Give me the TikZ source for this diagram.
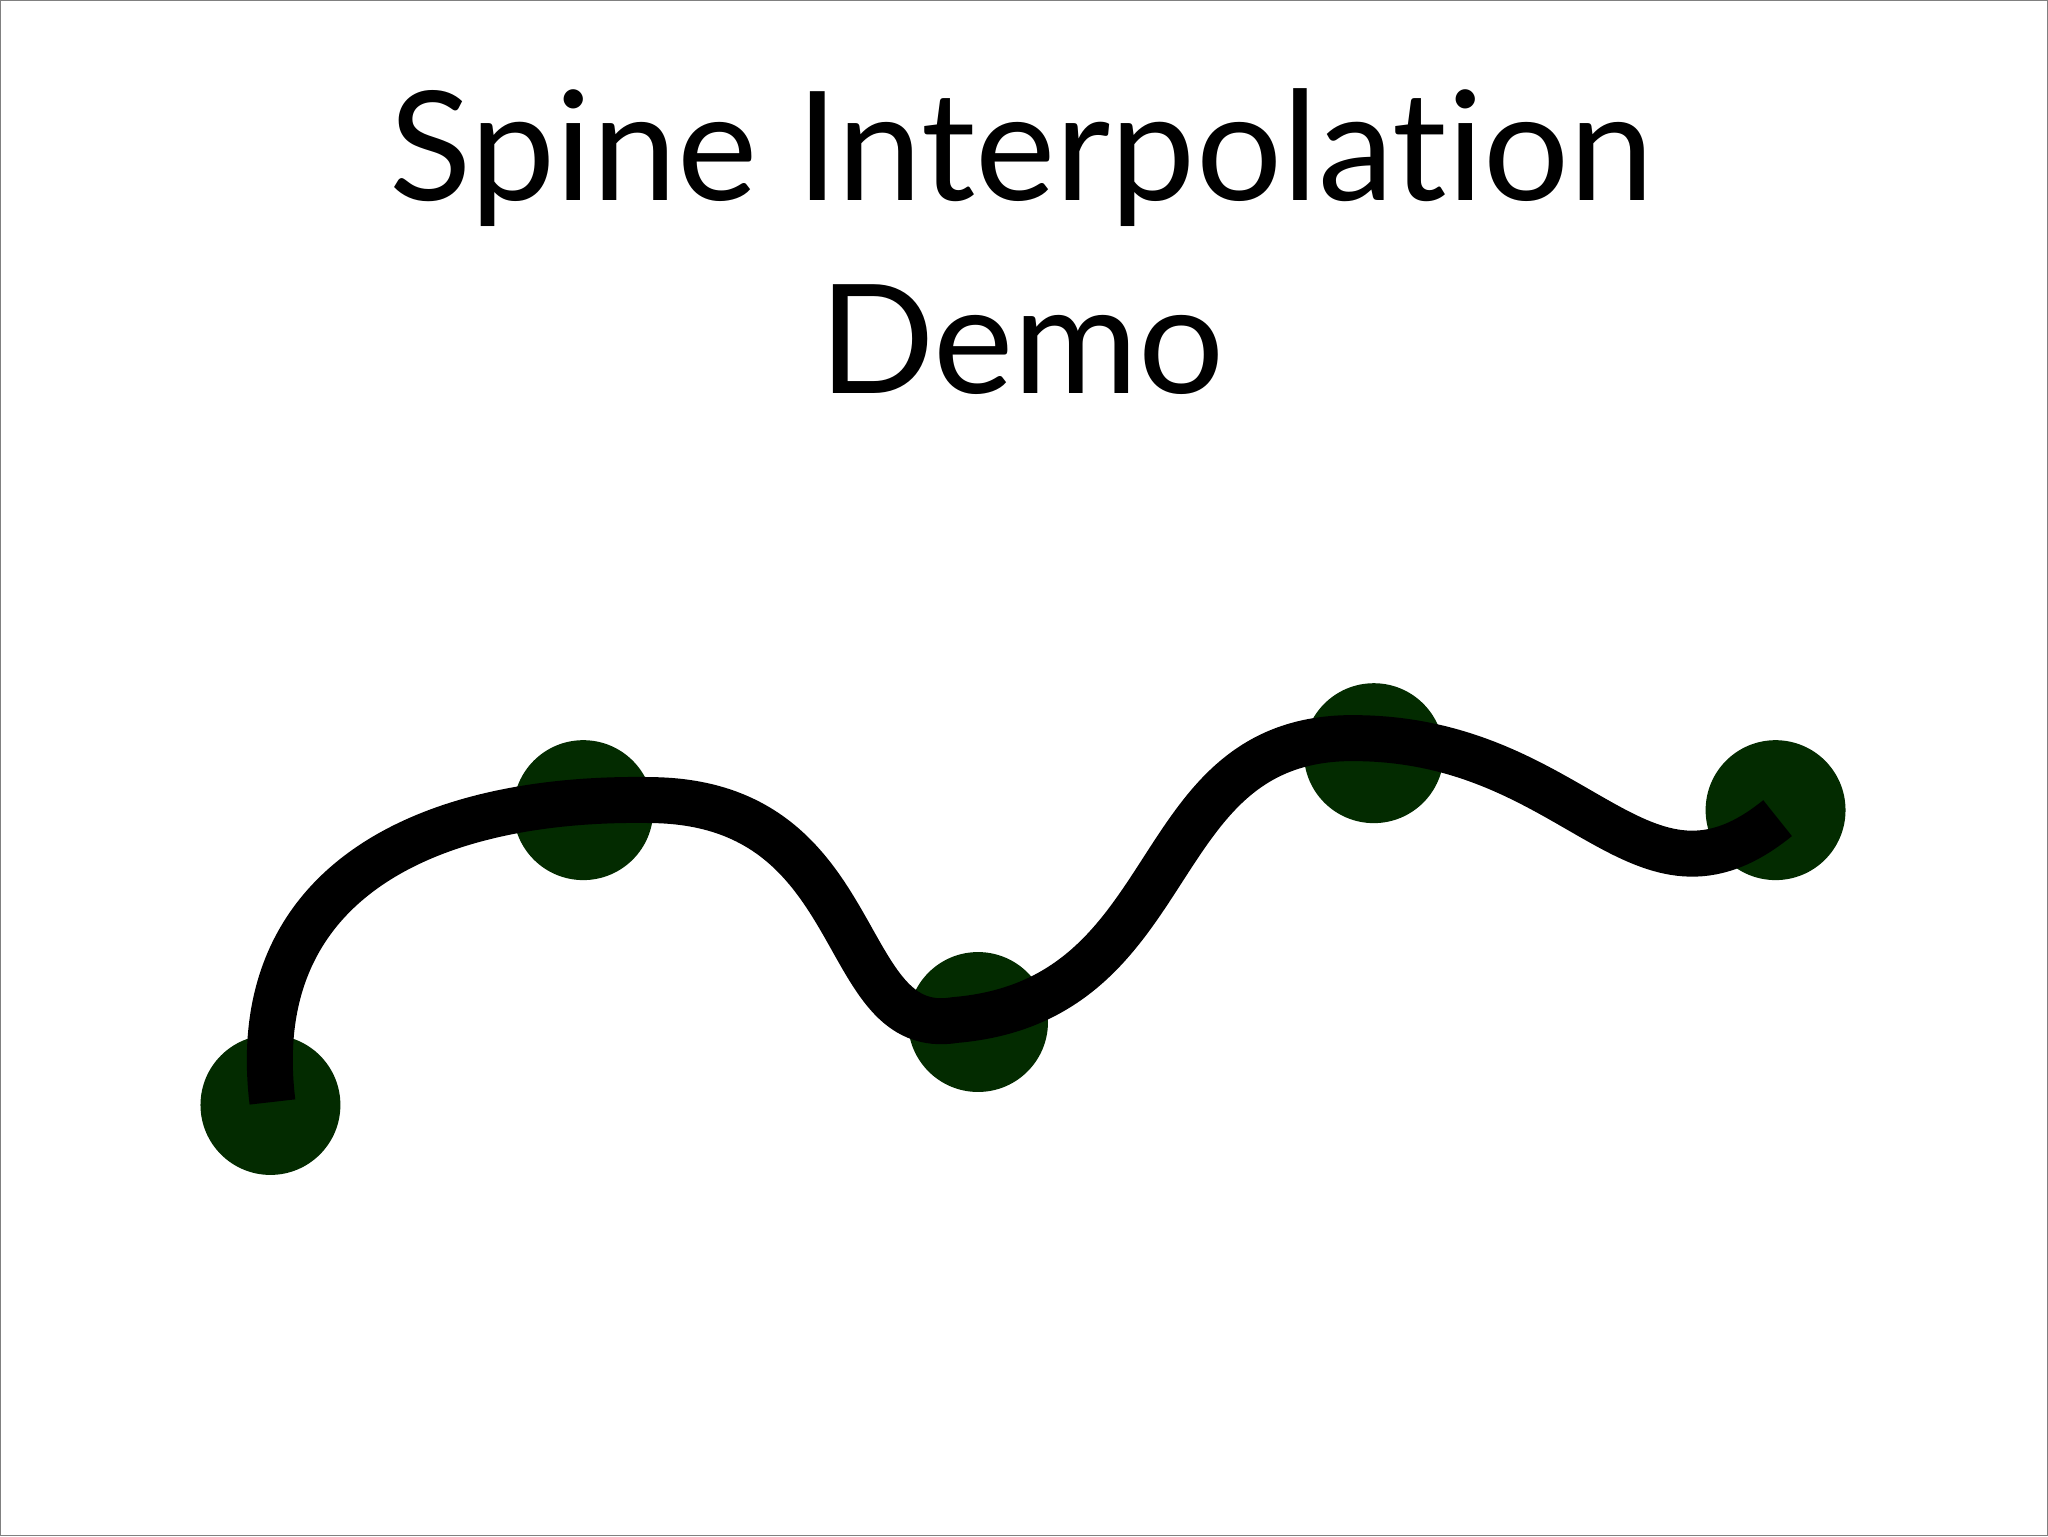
\documentclass[tikz,border=0pt]{standalone}
\usepackage{fontspec}
\setmainfont{Lato}[Ligatures={NoCommon,NoRare,NoDiscretionary}]
\definecolor{dot}{HTML}{032B00}
\begin{document}
\begin{tikzpicture}[x=0.5pt,y=-0.5pt,
  pt/.style={circle,fill=dot,minimum size=70pt,inner sep=0pt},
  ttl/.style={anchor=base,font=\fontsize{76}{90}\selectfont}]
\draw[gray,line width=0.6pt,fill=white] (0,0) rectangle (2048,1536);
\node[ttl] (t1) at (1022,200) {Spine Interpolation};
\node[ttl] (t2) at (1022,393) {Demo};
\node[pt] (p1) at (270,1105) {};
\node[pt] (p2) at (583,810) {};
\node[pt] (p3) at (978,1022) {};
\node[pt] (p4) at (1374,753) {};
\node[pt] (p5) at (1776,810) {};
\coordinate (s) at (272,1102);
\coordinate (e) at (1778,818);
\draw[line width=23pt] (s) .. controls (245,880) and (430,795) .. (655,800)
  .. controls (870,805) and (835,1040) .. (955,1020)
  .. controls (1190,1000) and (1140,732) .. (1360,738)
  .. controls (1580,742) and (1640,930) .. (e);
\end{tikzpicture}
\end{document}
